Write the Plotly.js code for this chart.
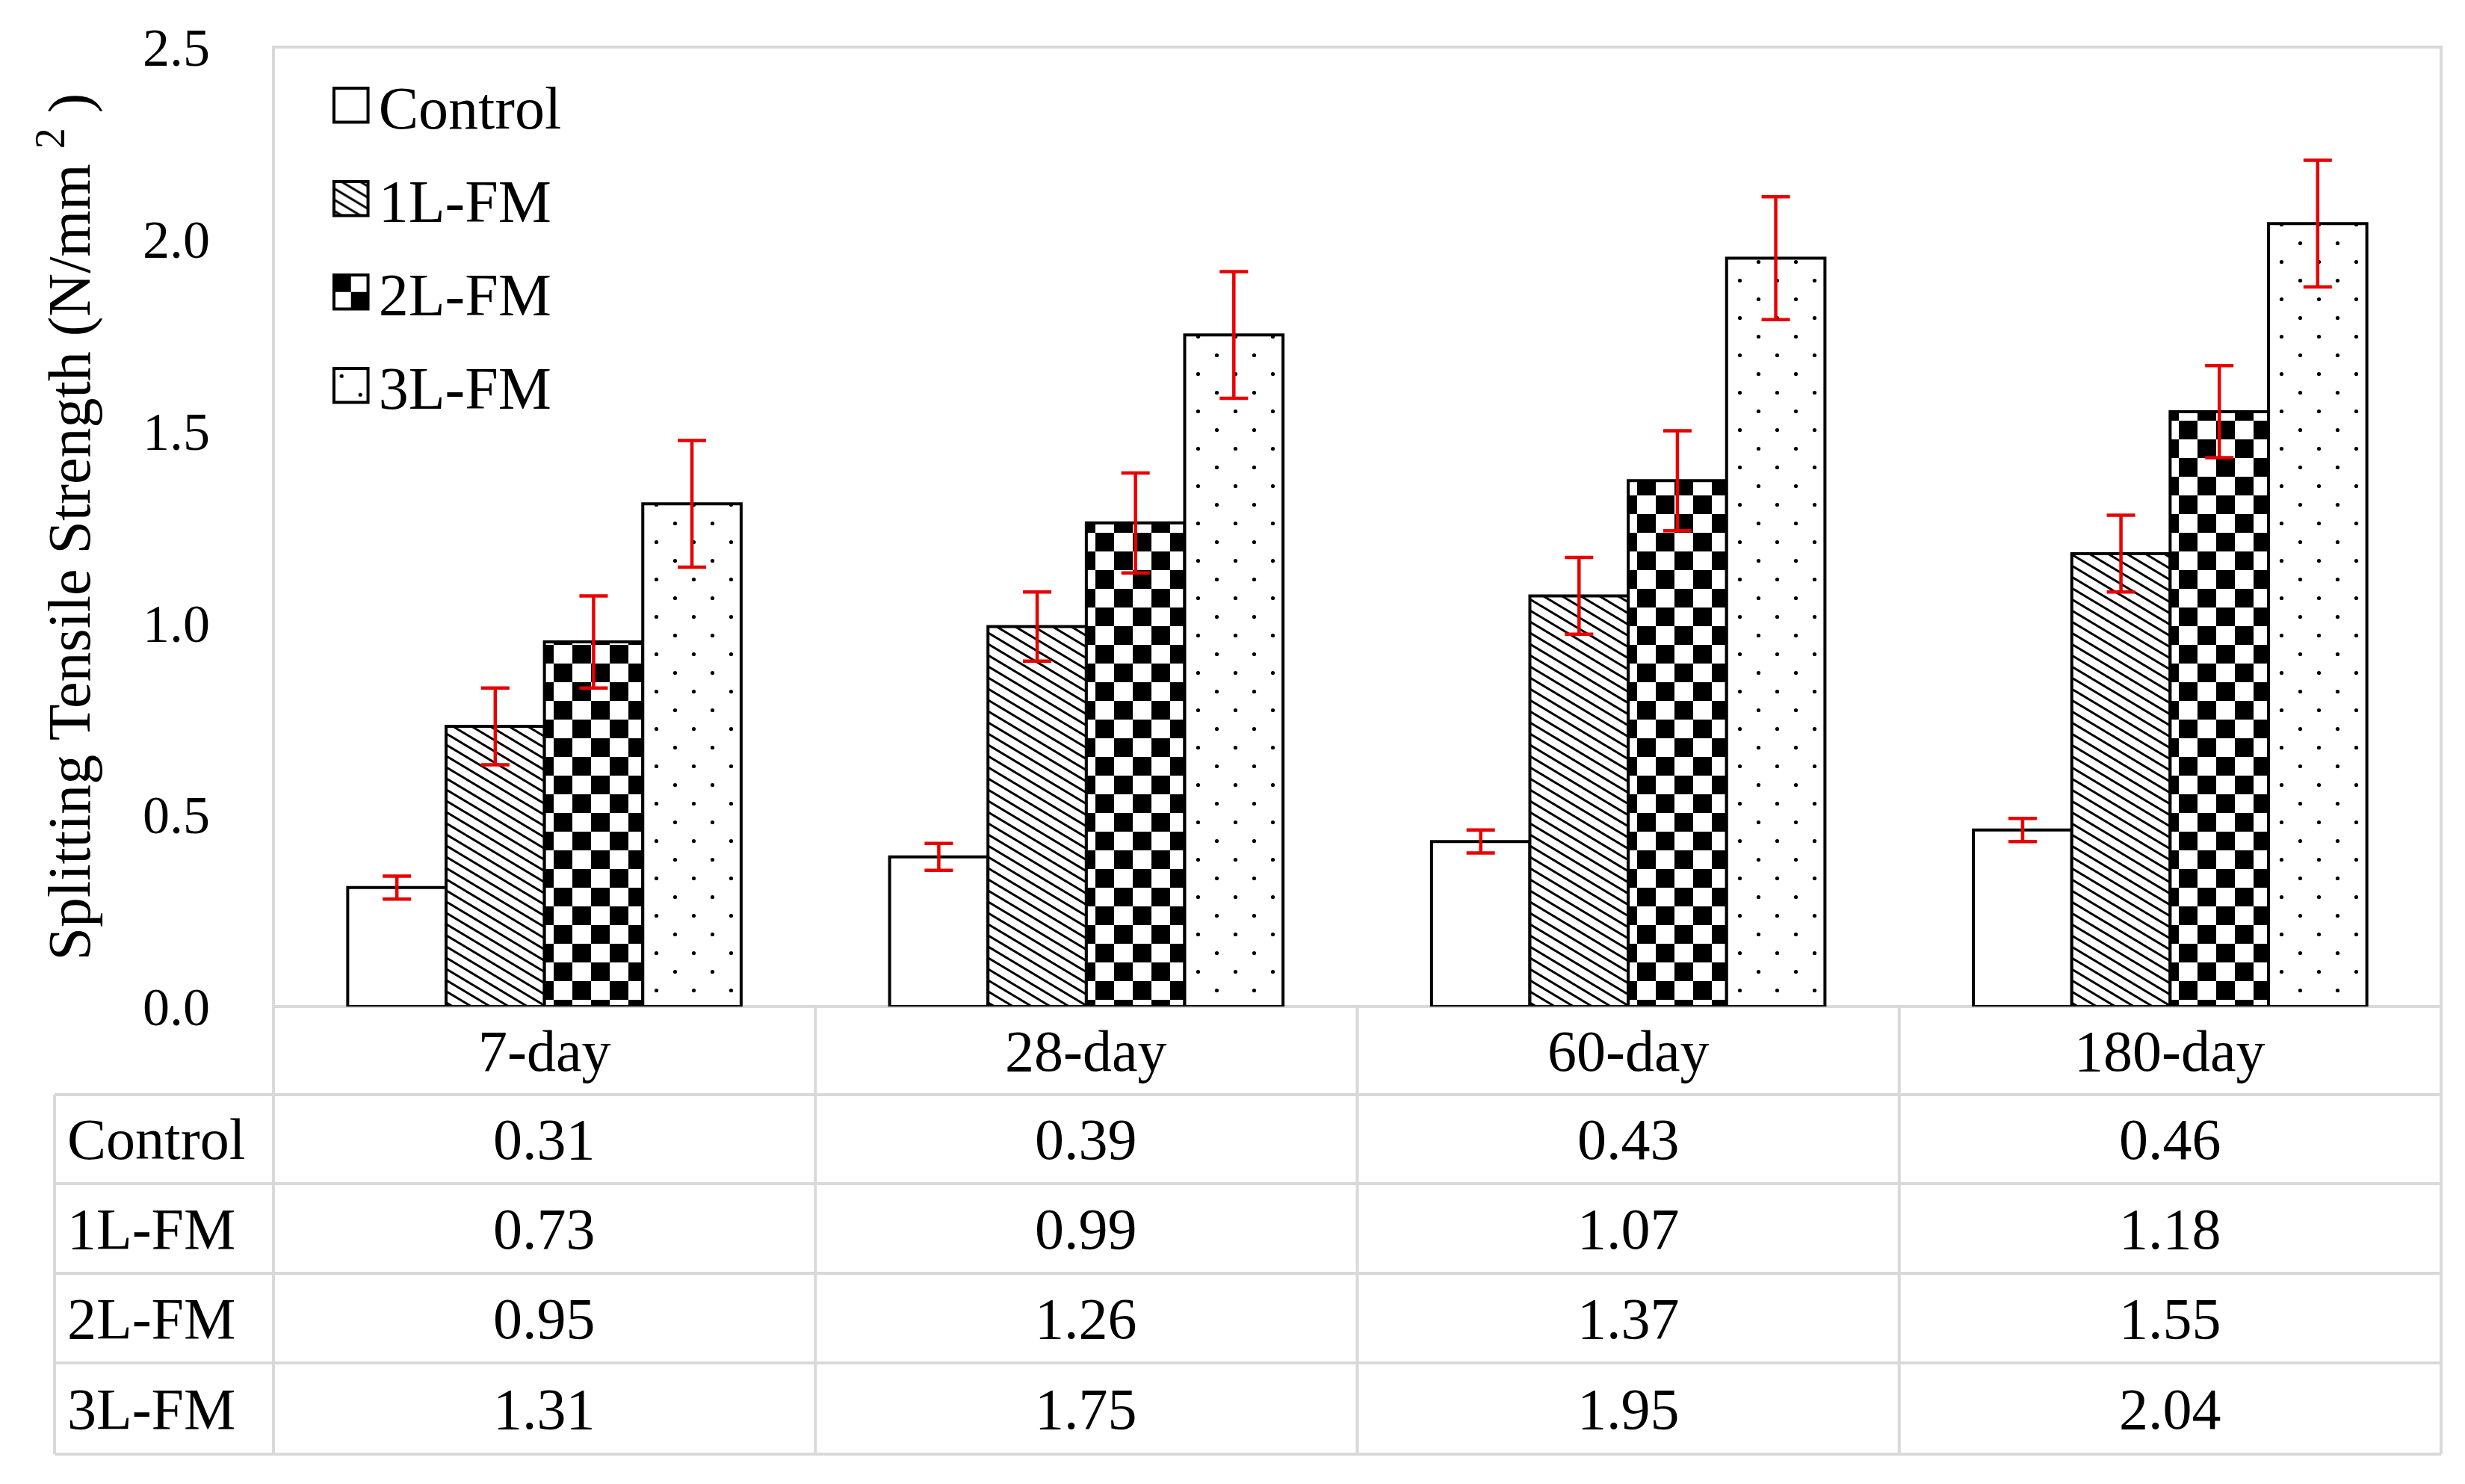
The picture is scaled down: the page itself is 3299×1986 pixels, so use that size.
<!DOCTYPE html>
<html>
<head>
<meta charset="utf-8">
<script src="https://cdn.plot.ly/plotly-3.0.1.min.js"></script>
<style>
  html, body { margin: 0; padding: 0; background: #ffffff; }
  #chart { width: 3299px; height: 1986px; }
</style>
</head>
<body>
<div id="chart"></div>
<script>
// ---------------- data ----------------
const categories = ['7-day', '28-day', '60-day', '180-day'];
const seriesNames = ['Control', '1L-FM', '2L-FM', '3L-FM'];
const controlValues = [0.31, 0.39, 0.43, 0.46];
const fm1Values = [0.73, 0.99, 1.07, 1.18];
const fm2Values = [0.95, 1.26, 1.37, 1.55];
const fm3Values = [1.31, 1.75, 1.95, 2.04];
const controlErr = [0.03, 0.035, 0.03, 0.03];
const fm1Err = [0.10, 0.09, 0.10, 0.10];
const fm2Err = [0.12, 0.13, 0.13, 0.12];
const fm3Err = [0.165, 0.165, 0.16, 0.165];
const yTitle = 'Splitting Tensile Strength (N/mm <sup>2</sup> )';

const allValues = [controlValues, fm1Values, fm2Values, fm3Values];
const allErr = [controlErr, fm1Err, fm2Err, fm3Err];
const uids = ['trA', 'trB', 'trC', 'trD'];

// ---------------- styling ----------------
const FONT = 'Liberation Serif, Times New Roman, serif';
const GRID = '#d9d9d9';
const ERR = '#e80000';

const data = seriesNames.map(function (name, j) {
  const marker = { color: '#ffffff', line: { color: '#000000', width: 4 } };
  if (j > 0) {
    marker.pattern = { shape: ['\\', '+', '.'][j - 1], size: 20, solidity: 0.3, fgcolor: '#000000', bgcolor: '#ffffff' };
  }
  return {
    type: 'bar',
    name: name,
    uid: uids[j],
    legendgroup: 'g' + j,
    x: categories,
    y: allValues[j],
    marker: marker,
    error_y: { type: 'data', array: allErr[j], visible: true, color: ERR, thickness: 4.5, width: 19 },
    hoverinfo: 'skip'
  };
});

// table geometry (paper coordinates)
const H = 1986, W = 3299, mL = 366, mR = 32, mT = 63, mB = 639;
const plotH = H - mT - mB, plotW = W - mL - mR;
function py(px) { return (H - mB - px) / plotH; }
function pxp(px) { return (px - mL) / plotW; }
const rowEdges = [1347, 1465, 1584, 1704, 1824, 1946].map(py);
const tableLeft = pxp(73);
const labelLeft = pxp(88);

const shapes = [];
const lineStyle = { color: GRID, width: 4 };
// plot frame
shapes.push({ type: 'rect', xref: 'paper', yref: 'paper', x0: 0, x1: 1, y0: 0, y1: 1, line: lineStyle, layer: 'below' });
// horizontal table lines
for (let r = 1; r < rowEdges.length; r++) {
  shapes.push({ type: 'line', xref: 'paper', yref: 'paper', x0: tableLeft, x1: 1, y0: rowEdges[r], y1: rowEdges[r], line: lineStyle });
}
// vertical table lines
shapes.push({ type: 'line', xref: 'paper', yref: 'paper', x0: tableLeft, x1: tableLeft, y0: rowEdges[1], y1: rowEdges[5], line: lineStyle });
shapes.push({ type: 'line', xref: 'paper', yref: 'paper', x0: 0, x1: 0, y0: 0, y1: rowEdges[5], line: lineStyle });
shapes.push({ type: 'line', xref: 'paper', yref: 'paper', x0: 1, x1: 1, y0: 0, y1: rowEdges[5], line: lineStyle });
for (let i = 0; i < categories.length - 1; i++) {
  shapes.push({ type: 'line', xref: 'x', yref: 'paper', x0: i + 0.5, x1: i + 0.5, y0: 0, y1: rowEdges[5], line: lineStyle });
}

const annotations = [];
const TFONT = { family: FONT, size: 78, color: '#000000' };
categories.forEach(function (c, i) {
  annotations.push({ xref: 'x', yref: 'paper', x: i, y: (rowEdges[0] + rowEdges[1]) / 2, text: c, showarrow: false, xanchor: 'center', yanchor: 'middle', font: TFONT });
});
seriesNames.forEach(function (name, j) {
  const yc = (rowEdges[j + 1] + rowEdges[j + 2]) / 2;
  annotations.push({ xref: 'paper', yref: 'paper', x: labelLeft, y: yc, text: name, showarrow: false, xanchor: 'left', yanchor: 'middle', font: TFONT });
  allValues[j].forEach(function (v, i) {
    annotations.push({ xref: 'x', yref: 'paper', x: i, y: yc, text: v.toFixed(2), showarrow: false, xanchor: 'center', yanchor: 'middle', font: TFONT });
  });
});

const layout = {
  width: W, height: H,
  margin: { l: mL, r: mR, t: mT, b: mB, pad: 0 },
  paper_bgcolor: '#ffffff', plot_bgcolor: '#ffffff',
  font: { family: FONT, color: '#000000', size: 78 },
  barmode: 'group', bargap: 0.274, bargroupgap: 0,
  showlegend: true,
  legend: {
    x: 0.023, y: 0.985, xanchor: 'left', yanchor: 'top',
    bgcolor: 'rgba(0,0,0,0)', borderwidth: 0,
    font: { family: FONT, size: 80, color: '#000000' },
    itemwidth: 64, tracegroupgap: 18, traceorder: 'grouped'
  },
  xaxis: { type: 'category', range: [-0.5, 3.5], showticklabels: false, showgrid: false, zeroline: false, showline: false, ticks: '' },
  yaxis: {
    range: [0, 2.5], tick0: 0, dtick: 0.5, tickformat: '.1f',
    showgrid: false, zeroline: false, showline: false, ticks: '',
    ticklabelstandoff: 84,
    tickfont: { family: FONT, size: 72, color: '#000000' },
    title: { text: yTitle, font: { family: FONT, size: 80, color: '#000000' }, standoff: 44 }
  },
  shapes: shapes,
  annotations: annotations
};

// ---------------- custom hatch tiles ----------------
const SVGNS = 'http://www.w3.org/2000/svg';
function mk(tag, attrs) {
  const e = document.createElementNS(SVGNS, tag);
  for (const k in attrs) e.setAttribute(k, attrs[k]);
  return e;
}
function setTile(pat, w, h, children) {
  while (pat.firstChild) pat.removeChild(pat.firstChild);
  pat.setAttribute('width', w);
  pat.setAttribute('height', h);
  pat.removeAttribute('patternTransform');
  pat.appendChild(mk('rect', { x: 0, y: 0, width: w, height: h, fill: '#ffffff' }));
  children.forEach(function (c) { pat.appendChild(c); });
}
function diagTile(pat, k) {
  const w = 25 * k, h = 15 * k;
  const d = 'M' + (-w) + ',' + (-h) + 'L' + (2 * w) + ',' + (2 * h) +
            'M0,' + (-h) + 'L' + (3 * w) + ',' + (2 * h) +
            'M' + (-w) + ',0L' + (2 * w) + ',' + (3 * h);
  setTile(pat, w, h, [mk('path', { d: d, stroke: '#000000', 'stroke-width': 3 * k, fill: 'none' })]);
}
function checkTile(pat, k) {
  const s = 25 * k;
  setTile(pat, 2 * s, 2 * s, [
    mk('rect', { x: 0, y: 0, width: s, height: s, fill: '#000000' }),
    mk('rect', { x: s, y: s, width: s, height: s, fill: '#000000' })
  ]);
}
function dotTile(pat, k) {
  const s = 50 * k;
  setTile(pat, s, s, [
    mk('circle', { cx: s / 4, cy: s / 4, r: 2.6 * k, fill: '#000000' }),
    mk('circle', { cx: 3 * s / 4, cy: 3 * s / 4, r: 2.6 * k, fill: '#000000' })
  ]);
}
const ICON_SCALE = 3.8;
function customise(gd) {
  const builders = { trB: diagTile, trC: checkTile, trD: dotTile };
  document.querySelectorAll('pattern').forEach(function (pat) {
    const id = pat.getAttribute('id') || '';
    Object.keys(builders).forEach(function (u) {
      if (id.endsWith('-' + u)) {
        const isLegend = id.indexOf('legend') >= 0;
        builders[u](pat, isLegend ? 1 / ICON_SCALE : 1);
      }
    });
  });
  gd.querySelectorAll('.legend .legendpoints path').forEach(function (p) {
    const t = p.getAttribute('transform') || '';
    p.setAttribute('transform', t + ' scale(' + ICON_SCALE + ')');
    p.style.vectorEffect = 'non-scaling-stroke';
    p.style.strokeWidth = '4px';
    p.style.stroke = '#000000';
  });
}

Plotly.newPlot('chart', data, layout, { displayModeBar: false, staticPlot: true }).then(customise);
</script>
</body>
</html>
